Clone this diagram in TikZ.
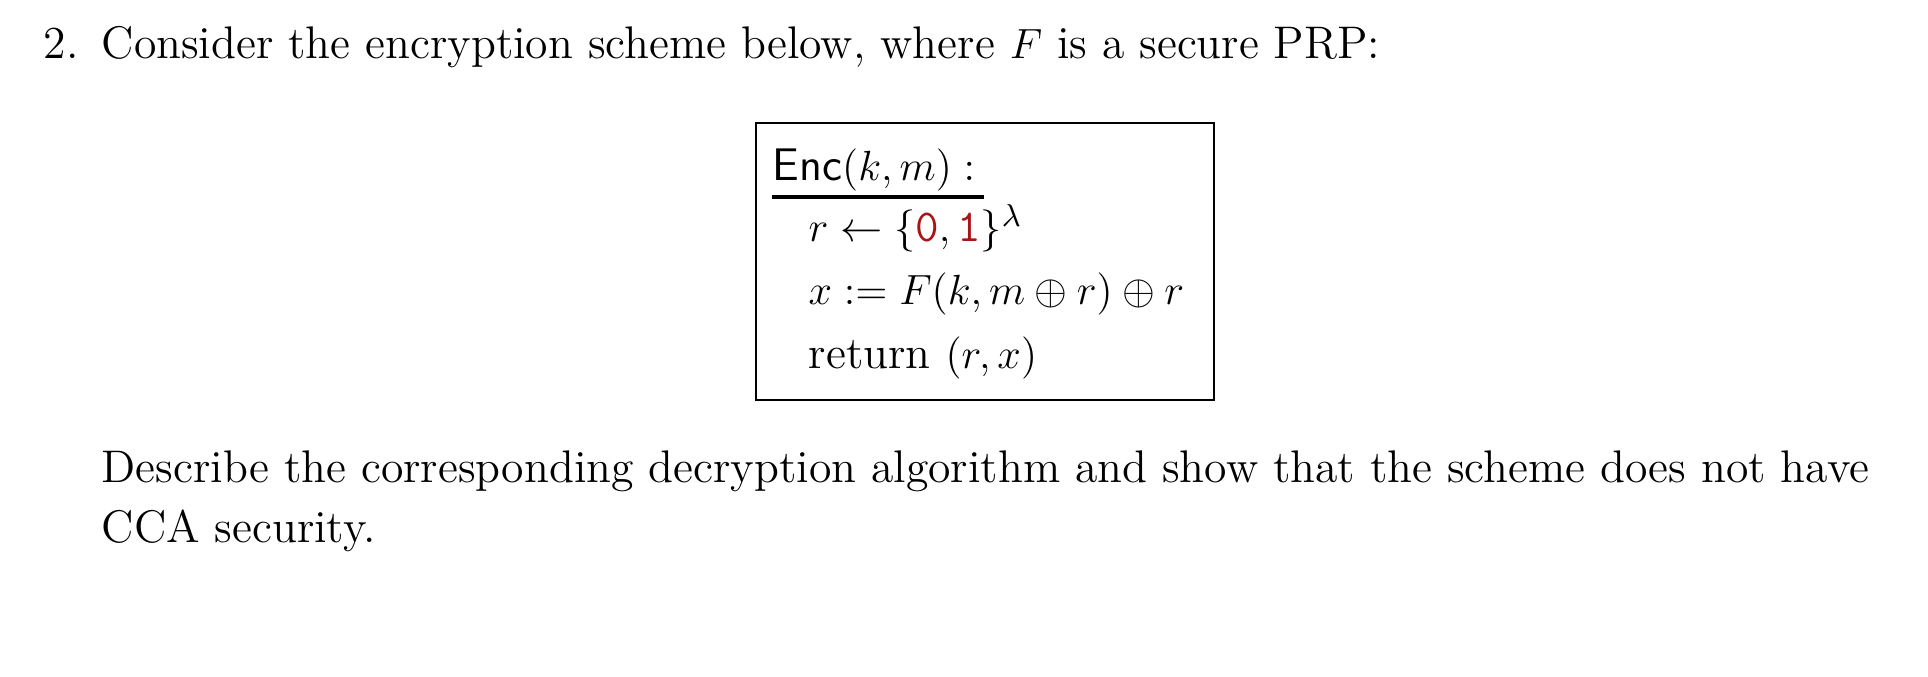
\documentclass[tikz,border=0pt]{standalone}
\usepackage{xcolor}
\definecolor{numred}{RGB}{170,20,20}
\tikzset{txt/.style={anchor=base west,inner sep=0pt,font=\fontsize{13}{16}\selectfont}}
\begin{document}
\begin{tikzpicture}[x=0.01cm,y=0.01cm]
\useasboundingbox (0,0) rectangle (1928,676);
\node[txt] (num) at (43,617) {2.};
\node[txt] (q) at (101,617) {Consider the encryption scheme below, where $F$ is a secure PRP:};
\draw[line width=0.6pt] (756,553) rectangle (1214,276);
\node[txt] (enc) at (772,495) {$\textsf{Enc}(k,m):$};
\draw[line width=1.2pt] (772,479) -- (984,479);
\node[txt] (l1) at (808,434) {$r \leftarrow \{\texttt{\textcolor{numred}{0}},\texttt{\textcolor{numred}{1}}\}^\lambda$};
\node[txt] (l2) at (808,371) {$x := F(k, m \oplus r) \oplus r$};
\node[txt] (l3) at (808,307) {return $(r,x)$};
\node[txt] (d1) at (101,193) {Describe the corresponding decryption algorithm and show that the scheme does not have};
\node[txt] (d2) at (101,133) {CCA security.};
\end{tikzpicture}
\end{document}
